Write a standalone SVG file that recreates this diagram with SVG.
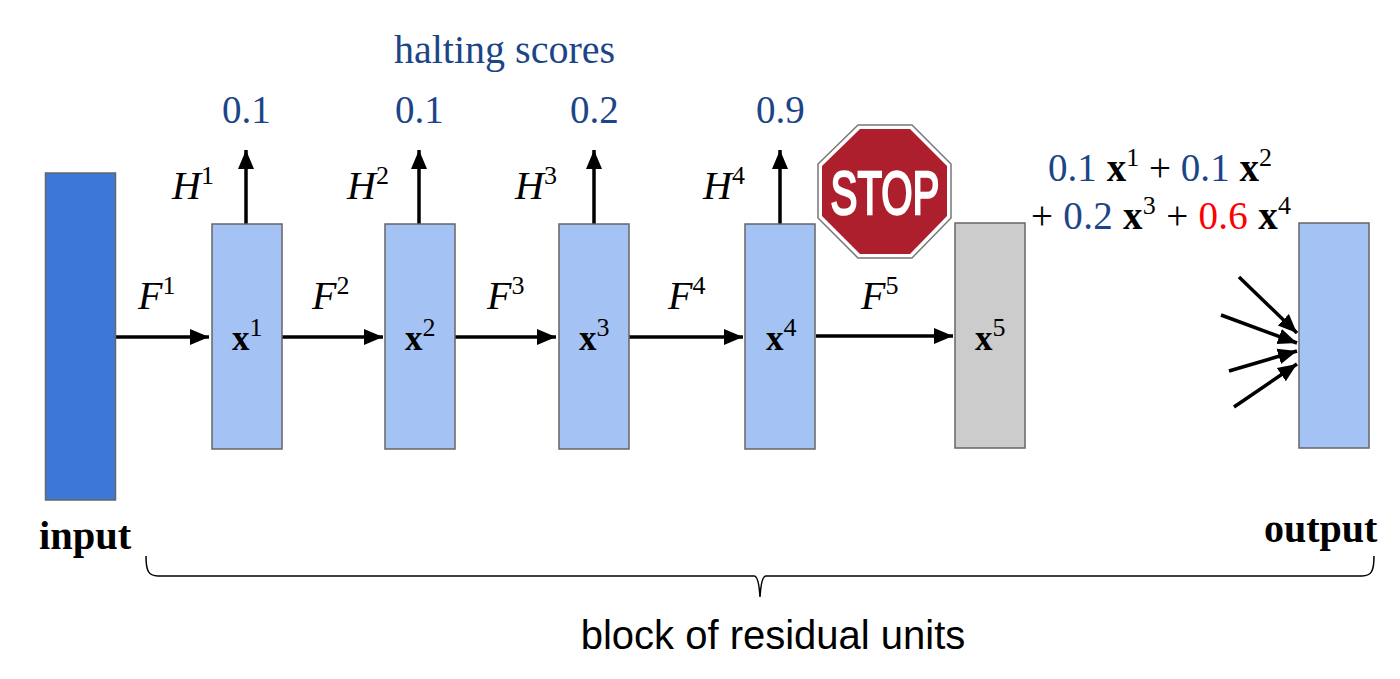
<svg xmlns="http://www.w3.org/2000/svg" width="1400" height="679" viewBox="0 0 1400 679">
<style>
text{font-family:"Liberation Serif","Times New Roman",serif;fill:#000}
.s{font-size:39px;fill:#1c4587}
.v{font-size:40px;font-style:italic}
.x{font-size:35px;font-weight:bold}
.e{font-size:39px}
.b{fill:#1c4587}
.r{fill:#f00}
.u{font-size:26px;font-weight:normal;font-style:normal}
.l{font-size:40.500px;font-weight:bold}
.box{fill:#a4c2f4;stroke:#666;stroke-width:1.500}
.c{stroke:#000;stroke-width:3.500;fill:none}
</style>
<defs>
<marker id="a" markerUnits="userSpaceOnUse" markerWidth="20" markerHeight="18" refX="19" refY="9" orient="auto"><path d="M0 1L19 9L0 17Z" fill="#000"/></marker>
</defs>
<g id="connectors">
<path class="c" marker-end="url(#a)" d="M116 337H209"/>
<path class="c" marker-end="url(#a)" d="M282 337H383"/>
<path class="c" marker-end="url(#a)" d="M455 337H556"/>
<path class="c" marker-end="url(#a)" d="M629 337H743"/>
<path class="c" marker-end="url(#a)" d="M816 336H953"/>
<path class="c" marker-end="url(#a)" d="M246 224V150"/>
<path class="c" marker-end="url(#a)" d="M419 224V150"/>
<path class="c" marker-end="url(#a)" d="M594 224V150"/>
<path class="c" marker-end="url(#a)" d="M780 224V150"/>
<path class="c" marker-end="url(#a)" d="M1239 277L1297 333"/>
<path class="c" marker-end="url(#a)" d="M1221 315L1297 343"/>
<path class="c" marker-end="url(#a)" d="M1229 371L1297 351"/>
<path class="c" marker-end="url(#a)" d="M1234 407L1297 364"/>
<path d="M146 556C146 570 148 576 158 576H754C757 576 759 581 760 597C761 581 763 576 766 576H1362C1372 576 1374 570 1374 556" fill="none" stroke="#000" stroke-width="1.500"/>
</g>
<g id="input"><rect x="45.500" y="173" width="70" height="327" fill="#3c78d8" stroke="#666" stroke-width="1.500"/><text class="l" x="39" y="549">input</text></g>
<g id="x1"><rect class="box" x="212" y="224" width="70" height="225"/><text class="x" x="232" y="350">x<tspan class="u" dy="-14">1</tspan></text></g>
<g id="x2"><rect class="box" x="385" y="224" width="70" height="225"/><text class="x" x="405" y="350">x<tspan class="u" dy="-14">2</tspan></text></g>
<g id="x3"><rect class="box" x="559" y="224" width="70" height="225"/><text class="x" x="579" y="350">x<tspan class="u" dy="-14">3</tspan></text></g>
<g id="x4"><rect class="box" x="745" y="224" width="70" height="225"/><text class="x" x="766" y="350">x<tspan class="u" dy="-14">4</tspan></text></g>
<g id="x5"><rect x="955" y="223" width="70" height="225" fill="#ccc" stroke="#666" stroke-width="1.500"/><text class="x" x="975" y="350">x<tspan class="u" dy="-14">5</tspan></text></g>
<g id="output"><rect class="box" x="1299" y="223" width="70" height="225"/><text class="l" x="1264" y="542" style="font-size:40px">output</text></g>
<g id="labels">
<text x="394" y="63" style="font-size:40px;fill:#1c4587">halting scores</text>
<text class="s" x="222" y="123">0.1</text>
<text class="s" x="395" y="123">0.1</text>
<text class="s" x="570" y="123">0.2</text>
<text class="s" x="756" y="123">0.9</text>
<text class="v" x="172" y="199">H<tspan class="u" dy="-15">1</tspan></text>
<text class="v" x="347" y="199">H<tspan class="u" dy="-15">2</tspan></text>
<text class="v" x="515" y="199">H<tspan class="u" dy="-15">3</tspan></text>
<text class="v" x="703" y="199">H<tspan class="u" dy="-15">4</tspan></text>
<text class="v" x="138" y="309">F<tspan class="u" dy="-15">1</tspan></text>
<text class="v" x="312" y="309">F<tspan class="u" dy="-15">2</tspan></text>
<text class="v" x="487" y="309">F<tspan class="u" dy="-15">3</tspan></text>
<text class="v" x="668" y="309">F<tspan class="u" dy="-15">4</tspan></text>
<text class="v" x="861" y="309">F<tspan class="u" dy="-15">5</tspan></text>
<text class="e" x="1048" y="181" textLength="224"><tspan class="b">0.1</tspan> <tspan font-weight="bold">x</tspan><tspan class="u" dy="-15">1</tspan><tspan dy="15"> + </tspan><tspan class="b">0.1</tspan> <tspan font-weight="bold">x</tspan><tspan class="u" dy="-15">2</tspan></text>
<text class="e" x="1031" y="229" textLength="260">+ <tspan class="b">0.2</tspan> <tspan font-weight="bold">x</tspan><tspan class="u" dy="-15">3</tspan><tspan dy="15"> + </tspan><tspan class="r">0.6</tspan> <tspan font-weight="bold">x</tspan><tspan class="u" dy="-15">4</tspan></text>
<text x="773" y="649" text-anchor="middle" style="font-family:'Liberation Sans',Arial,sans-serif;font-size:40px">block of residual units</text>
</g>
<g id="stop">
<path d="M858 125H912L951 164V218L912 258H858L818 218V164Z" fill="#fff" stroke="#777" stroke-width="1.500"/>
<path d="M860 129H910L947 166V216L910 254H860L822 216V166Z" fill="#ad1f2d"/>
<text x="885" y="214" text-anchor="middle" textLength="109" lengthAdjust="spacingAndGlyphs" style="font-family:'Liberation Sans',Arial,sans-serif;font-size:62px;fill:#fff;stroke:#fff;stroke-width:2.500">STOP</text>
</g>
</svg>
